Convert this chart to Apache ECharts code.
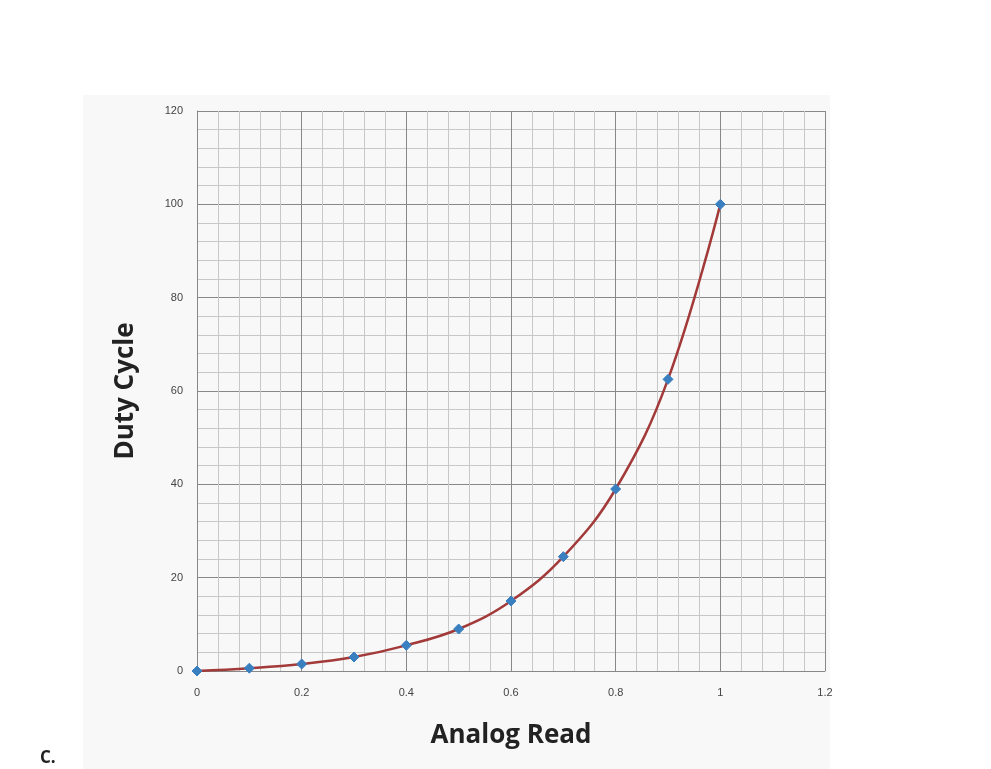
<!DOCTYPE html>
<html><head><meta charset="utf-8">
<script src="https://cdn.jsdelivr.net/npm/echarts@6/dist/echarts.min.js"></script>
<style>html,body{margin:0;padding:0;background:#fff}#c{width:991px;height:769px}</style>
</head><body><div id="c"></div>
<script>
const xValues = [0, 0.1, 0.2, 0.3, 0.4, 0.5, 0.6, 0.7, 0.8, 0.9, 1.0];
const dutyCycle = [0, 0.6, 1.5, 3, 5.5, 9, 15, 24.5, 39, 62.5, 100];
const chart = echarts.init(document.getElementById('c'));
chart.setOption({
  animation: false,
  graphic: [
    {type:'rect', shape:{x:83,y:95,width:747,height:674}, style:{fill:'#f8f8f8'}, z:-10},
    {type:'text', left:40, top:750, style:{text:'C.', font:'bold 17px "Open Sans"', fill:'#222'}}
  ],
  grid: {left:197, right:166, top:111, bottom:98, containLabel:false},
  xAxis: {
    type:'value', min:0, max:1.2, interval:0.2,
    name:'Analog Read', nameLocation:'middle', nameGap:52,
    nameTextStyle:{fontFamily:'Open Sans', fontWeight:'bold', fontSize:26, color:'#222'},
    axisLine:{show:true, lineStyle:{color:'#888'}}, axisTick:{show:false},
    axisLabel:{color:'#444', fontSize:11, margin:16, formatter:v=>String(+v.toFixed(1))},
    splitLine:{show:true, lineStyle:{color:'#888', width:1}},
    minorTick:{show:false, splitNumber:5},
    minorSplitLine:{show:true, lineStyle:{color:'#c8c8c8', width:1}}
  },
  yAxis: {
    type:'value', min:0, max:120, interval:20,
    name:'Duty Cycle', nameLocation:'middle', nameGap:58,
    nameTextStyle:{fontFamily:'Open Sans', fontWeight:'bold', fontSize:26, color:'#222'},
    axisLine:{show:true, lineStyle:{color:'#888'}}, axisTick:{show:false},
    axisLabel:{color:'#444', fontSize:11, margin:14},
    splitLine:{show:true, lineStyle:{color:'#888', width:1}},
    minorTick:{show:false, splitNumber:5},
    minorSplitLine:{show:true, lineStyle:{color:'#c8c8c8', width:1}}
  },
  series: [{
    type:'line', smooth:0.4,
    data: xValues.map((x,i)=>[x, dutyCycle[i]]),
    lineStyle:{color:'#a33a3a', width:2.5},
    symbol:'diamond', symbolSize:10,
    itemStyle:{color:'#3a7fc0', borderColor:'#3a7fc0'}
  }]
});
</script></body></html>
